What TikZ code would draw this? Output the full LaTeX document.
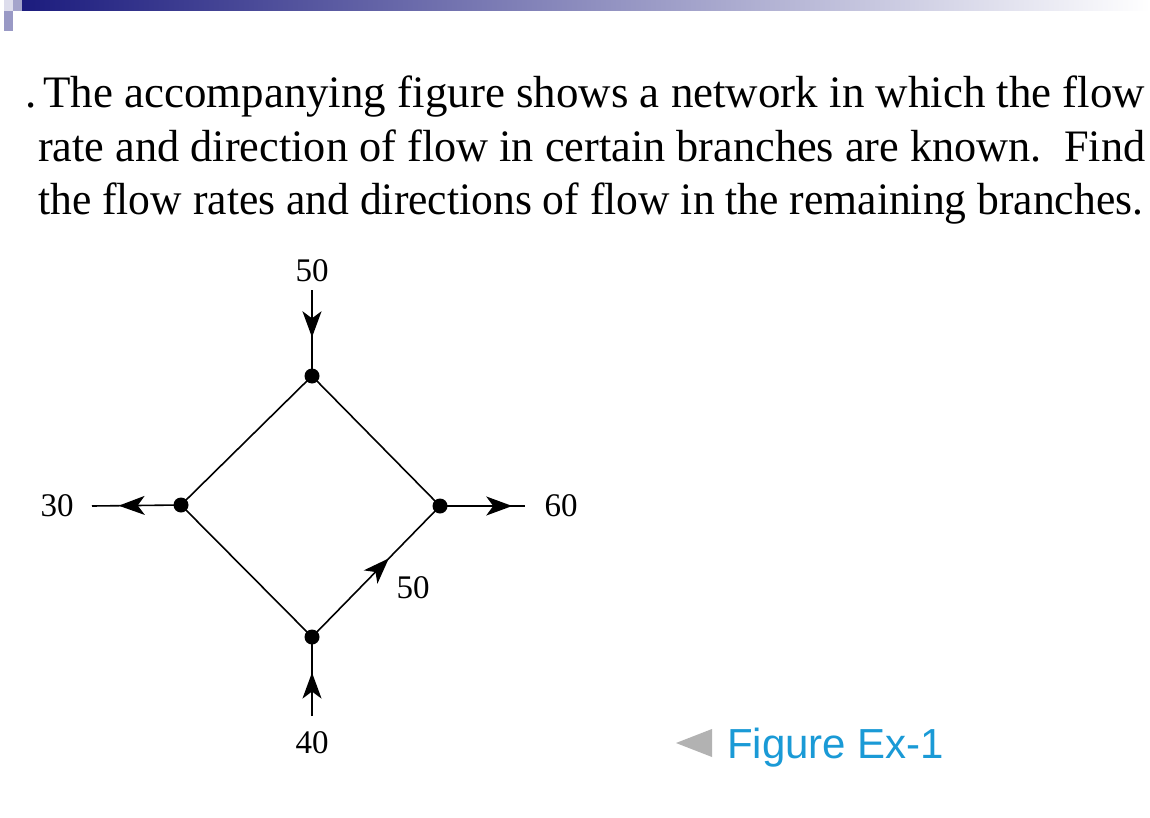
\documentclass[tikz,border=0pt]{standalone}
\usepackage{fontspec}
\setmainfont{Liberation Serif}
\newfontfamily\figsans{Liberation Sans}
\usetikzlibrary{arrows.meta,decorations.markings,shadings}
\definecolor{navy}{HTML}{1C1C7E}
\definecolor{figblue}{HTML}{1A9AD6}
\newcommand{\fitline}[2]{\resizebox{#1}{\height}{#2}}
\tikzset{
  dot/.style={circle,fill=black,inner sep=0pt,minimum size=15pt},
  lbl/.style={font=\fontsize{33}{33}\selectfont,inner sep=0pt},
  edge/.style={line width=1.6pt},
  tipmid/.style={decoration={markings,mark=at position #1 with {\arrow{Stealth[length=26pt,width=19pt,inset=7pt]}}},postaction={decorate}},
  body/.style={font=\fontsize{45}{45}\selectfont,anchor=base west,inner sep=0pt}
}
\begin{document}
\begin{tikzpicture}[x=1pt,y=-1pt]
\clip (0,0) rectangle (1150,818);
\fill[white] (0,0) rectangle (1150,818);
\shade[left color=navy,right color=white] (22,0) rectangle (1150,11);
\fill[navy!15] (4,0) rectangle (13,11);
\fill[navy!40] (13,0) rectangle (22,11);
\fill[navy!45] (4,11) rectangle (13,31);
\node[body,anchor=base east] (n1) at (37,108) {.};
\node[body] (t1) at (43,108) {\fitline{1102pt}{The accompanying figure shows a network in which the flow}};
\node[body] (t2) at (38,162) {\fitline{1107pt}{rate and direction of flow in certain branches are known.\ \ Find}};
\node[body] (t3) at (38,215) {\fitline{1105pt}{the flow rates and directions of flow in the remaining branches.}};
\node[dot] (T) at (312,376) {};
\node[dot] (L) at (181,505) {};
\node[dot] (R) at (440,506) {};
\node[dot] (B) at (312,637) {};
\coordinate (Ti) at (312,290);
\coordinate (Lo) at (92,506);
\coordinate (Ro) at (525,506);
\coordinate (Bi) at (312,716);
\draw[edge] (T.center) -- (L.center) -- (B.center);
\draw[edge] (T.center) -- (R.center);
\draw[edge,tipmid=0.6] (B.center) -- (R.center);
\draw[edge,tipmid=0.55] (Ti) -- (T.center);
\draw[edge,tipmid=0.7] (L.center) -- (Lo);
\draw[edge,tipmid=0.85] (R.center) -- (Ro);
\draw[edge,tipmid=0.55] (Bi) -- (B.center);
\node[lbl] (l50t) at (312,271) {50};
\node[lbl] (l30) at (57,506) {30};
\node[lbl] (l60) at (561,506) {60};
\node[lbl] (l40) at (312,743) {40};
\node[lbl] (l50d) at (413,588) {50};
\fill[gray!60] (676,743) -- (712,729) -- (712,757) -- cycle;
\node[anchor=base west,inner sep=0pt,text=figblue,font=\figsans\fontsize{42}{42}\selectfont] (fig) at (727,758) {Figure Ex-1};
\end{tikzpicture}
\end{document}
